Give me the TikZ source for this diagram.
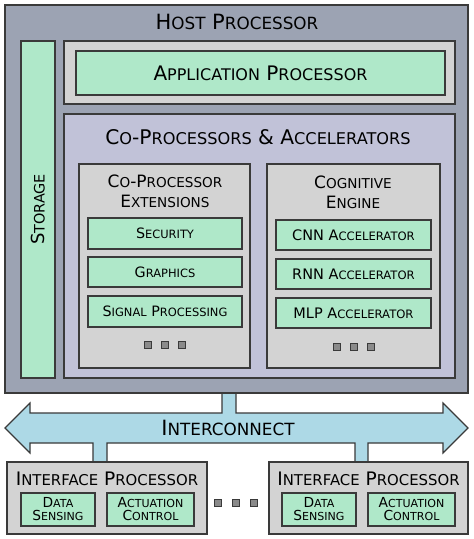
\documentclass[tikz,border=0pt]{standalone}
\usepackage{fontspec}
\setmainfont{DejaVu Sans}
\usetikzlibrary{positioning}

\definecolor{hostfill}{HTML}{9CA3B3}
\definecolor{grayfill}{HTML}{D3D3D3}
\definecolor{greenfill}{HTML}{AFE8C9}
\definecolor{lavfill}{HTML}{C1C2D8}
\definecolor{busfill}{HTML}{ADD9E6}
\definecolor{edge}{HTML}{3A3A3A}
\definecolor{dotfill}{HTML}{8A8A8A}

% fake small caps: big first letter, smaller rest
\makeatletter
\newcommand\smc[2]{#1{\fontsize{\the\dimexpr\f@size pt*4/5\relax}{\f@baselineskip}\selectfont#2}}
\makeatother

\tikzset{
  box/.style={draw=edge, line width=1.2pt, inner sep=0pt, outer sep=0pt},
  hostbox/.style={box, fill=hostfill},
  graybox/.style={box, fill=grayfill},
  greenbox/.style={box, fill=greenfill, text=black},
  lavbox/.style={box, fill=lavfill},
  title/.style={inner sep=0pt, text=black, align=center},
  dotbox/.style={draw=edge, line width=1pt, fill=dotfill, minimum size=7pt, inner sep=0pt}
}

\begin{document}
\begin{tikzpicture}[x=1pt, y=-1pt]
  \useasboundingbox (0,0) rectangle (474,539);
  \fill[white] (0,0) rectangle (474,539);

  % Interconnect bus with its stems
  \draw[fill=busfill, draw=edge, line width=1.2pt]
    (5,428) -- (30,403) -- (30,413) -- (222,413) -- (222,390)
    -- (236,390) -- (236,413) -- (443,413) -- (443,403) -- (468,428)
    -- (443,453) -- (443,443) -- (368,443) -- (368,465) -- (355,465)
    -- (355,443) -- (107,443) -- (107,465) -- (93,465) -- (93,443)
    -- (30,443) -- (30,453) -- cycle;
  \node[title, font=\fontsize{21}{24}\selectfont] (bus) at (228,428) {\smc{I}{NTERCONNECT}};

  % Host processor
  \node[hostbox, minimum width=463pt, minimum height=388pt] (host) at (236.5,199) {};
  \node[title, font=\fontsize{21}{24}\selectfont] (hosttitle) at (237,22) {\smc{H}{OST} \smc{P}{ROCESSOR}};
  \node[greenbox, minimum width=34pt, minimum height=337pt] (storage) at (38,209.5) {};
  \node[title, rotate=90, font=\fontsize{18}{21}\selectfont] (storagetext) at (38,209.5) {\smc{S}{TORAGE}};

  % Application processor
  \node[graybox, minimum width=391pt, minimum height=63pt] (app) at (259.5,72.5) {};
  \node[greenbox, minimum width=369pt, minimum height=44pt, font=\fontsize{20}{23}\selectfont] (appin) at (260.5,73)
    {\smc{A}{PPLICATION} \smc{P}{ROCESSOR}};

  % Co-processors and accelerators
  \node[lavbox, minimum width=391pt, minimum height=264pt] (cop) at (259.5,246) {};
  \node[title, font=\fontsize{20.2}{23}\selectfont] (coptitle) at (258,137) {\smc{C}{O}-\smc{P}{ROCESSORS} \& \smc{A}{CCELERATORS}};

  \node[graybox, minimum width=171pt, minimum height=204pt] (ext) at (164.5,266) {};
  \node[title, font=\fontsize{17}{20}\selectfont] (exttitle) at (165,191.5) {\smc{C}{O}-\smc{P}{ROCESSOR}\\\smc{E}{XTENSIONS}};
  \node[greenbox, minimum width=154pt, minimum height=31pt, font=\fontsize{14.3}{16}\selectfont] (sec) at (165,233.5) {\smc{S}{ECURITY}};
  \node[greenbox, minimum width=154pt, minimum height=30pt, font=\fontsize{14.3}{16}\selectfont] (gfx) at (165,272) {\smc{G}{RAPHICS}};
  \node[greenbox, minimum width=154pt, minimum height=31pt, font=\fontsize{14.3}{16}\selectfont] (sig) at (165,311.5) {\smc{S}{IGNAL} \smc{P}{ROCESSING}};
  \foreach \dx in {148,165,182}
    \node[dotbox] (extdot\dx) at (\dx,345) {};

  \node[graybox, minimum width=173pt, minimum height=204pt] (cog) at (353.5,266) {};
  \node[title, font=\fontsize{17}{20}\selectfont] (cogtitle) at (353,192) {\smc{C}{OGNITIVE}\\\smc{E}{NGINE}};
  \node[greenbox, minimum width=155pt, minimum height=30pt, font=\fontsize{14.5}{16}\selectfont] (cnn) at (353.5,235) {CNN \smc{A}{CCELERATOR}};
  \node[greenbox, minimum width=155pt, minimum height=30pt, font=\fontsize{14.5}{16}\selectfont] (rnn) at (353.5,274) {RNN \smc{A}{CCELERATOR}};
  \node[greenbox, minimum width=155pt, minimum height=30pt, font=\fontsize{14.5}{16}\selectfont] (mlp) at (353.5,313) {MLP \smc{A}{CCELERATOR}};
  \foreach \dx in {337,354,371}
    \node[dotbox] (cogdot\dx) at (\dx,347) {};

  % Interface processors
  \node[graybox, minimum width=200pt, minimum height=72pt] (ifl) at (107,498) {};
  \node[title, font=\fontsize{18.6}{22}\selectfont] (ifltitle) at (107,479) {\smc{I}{NTERFACE} \smc{P}{ROCESSOR}};
  \node[greenbox, minimum width=74pt, minimum height=33pt, align=center, font=\fontsize{13.8}{13}\selectfont] (dsl) at (58,509.5) {\smc{D}{ATA}\\\smc{S}{ENSING}};
  \node[greenbox, minimum width=87pt, minimum height=33pt, align=center, font=\fontsize{13.8}{13}\selectfont] (acl) at (150.5,509.5) {\smc{A}{CTUATION}\\\smc{C}{ONTROL}};

  \node[graybox, minimum width=199pt, minimum height=72pt] (ifr) at (368.5,498) {};
  \node[title, font=\fontsize{18.6}{22}\selectfont] (ifrtitle) at (368.5,479) {\smc{I}{NTERFACE} \smc{P}{ROCESSOR}};
  \node[greenbox, minimum width=74pt, minimum height=33pt, align=center, font=\fontsize{13.8}{13}\selectfont] (dsr) at (319,509.5) {\smc{D}{ATA}\\\smc{S}{ENSING}};
  \node[greenbox, minimum width=87pt, minimum height=33pt, align=center, font=\fontsize{13.8}{13}\selectfont] (acr) at (411.5,509.5) {\smc{A}{CTUATION}\\\smc{C}{ONTROL}};

  \foreach \dx in {218,236,254}
    \node[dotbox] (ifdot\dx) at (\dx,503) {};
\end{tikzpicture}
\end{document}
